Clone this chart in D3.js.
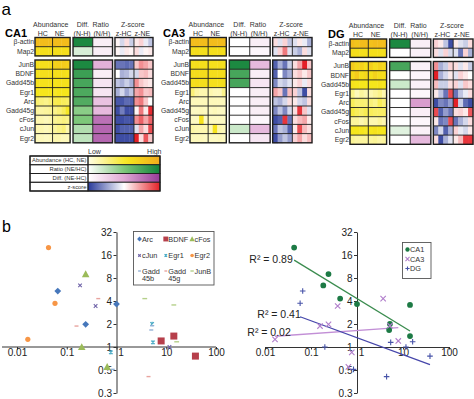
<!DOCTYPE html>
<html>
<head>
<meta charset="utf-8">
<script src="https://cdn.jsdelivr.net/npm/d3@7"></script>
<style>
  body { margin: 0; background: #fff; }
  svg { display: block; font-family: 'Liberation Sans', Arial, sans-serif; }
</style>
</head>
<body>
<div id="chart"></div>
<script>
// ---------- panel a : heatmaps ----------
const heatGenes = ['β-actin', 'Map2', 'JunB', 'BDNF', 'Gadd45b', 'Egr1', 'Arc', 'Gadd45g', 'cFos', 'cJun', 'Egr2'];
const regionNames = ['CA1', 'CA3', 'DG'];

// abundance, 4 HC replicates then 4 NE replicates (0 = low, 1 = high)
const ca1Abund = [
  [.85, .85, .85, .85, .85, .85, .85, .85],
  [.6, .6, .6, .6, .6, .6, .6, .6],
  [.6, .6, .6, .62, .7, .72, .75, .72],
  [.58, .6, .6, .6, .6, .6, .6, .58],
  [.58, .58, .58, .58, .56, .58, .58, .58],
  [.55, .55, .55, .55, .52, .55, .55, .55],
  [.32, .28, .25, .3, .4, .42, .38, .35],
  [.2, .18, .2, .22, .25, .3, .38, .52],
  [.15, .15, .12, .15, .22, .25, .28, .25],
  [.15, .15, .12, .15, .2, .25, .3, .15],
  [.12, .12, .1, .12, .15, .15, .12, .12],
];
const ca3Abund = [
  [.85, .85, .85, .85, .85, .85, .85, .85],
  [.6, .62, .6, .6, .6, .6, .62, .6],
  [.6, .62, .6, .6, .6, .6, .62, .6],
  [.62, .62, .62, .62, .62, .62, .62, .62],
  [.6, .62, .6, .6, .6, .6, .6, .62],
  [.3, .18, .15, .15, .15, .12, .12, .25],
  [.12, .12, .12, .12, .12, .12, .12, .12],
  [.1, .1, .12, .1, .1, .12, .1, .1],
  [.1, .1, .58, .1, .1, .1, .1, .1],
  [.18, .15, .15, .15, .12, .58, .15, .12],
  [.12, .12, .12, .1, .1, .1, .12, .1],
];
const dgAbund = [
  [.85, .8, .85, .85, .82, .85, .85, .85],
  [.62, .6, .6, .6, .6, .6, .6, .6],
  [.75, .65, .7, .6, .72, .62, .7, .65],
  [.65, .75, .6, .65, .6, .7, .62, .6],
  [.58, .55, .55, .55, .55, .55, .58, .55],
  [.25, .12, .2, .15, .15, .2, .25, .15],
  [.38, .3, .32, .3, .3, .25, .38, .3],
  [.45, .38, .35, .4, .38, .35, .35, .35],
  [.2, .2, .15, .2, .15, .15, .2, .15],
  [.55, .55, .55, .52, .55, .58, .55, .55],
  [.22, .18, .2, .2, .2, .22, .18, .2],
];

// green column and purple column (0 = low, 1 = high)
const ca1Green = [.95, .15, .95, .8, .75, .72, .7, .45, .5, .3, .25];
const ca1Purple = [.1, .1, .45, .1, .15, .15, .35, .4, .75, .8, .8];
const ca3Green = [0, 0, .95, .75, .75, 0, 0, 0, 0, .2, 0];
const ca3Purple = [.1, .05, .4, .1, .15, .1, .1, .1, .05, .4, .15];
const dgGreen = [.95, 0, .75, 0, .2, 0, 0, 0, 0, .12, 0];
const dgPurple = [.1, .08, .08, .05, .08, .05, .55, .1, .05, .08, .4];

// z-scores, 4 HC replicates then 4 NE replicates
const ca1Z = [
  [.1, -.4, .3, -.5, .2, .4, -.2, -.6],
  [.1, -.2, .2, .1, .3, -.2, .1, .2],
  [-1.4, -1.4, -1.5, -1.4, .5, 1, .8, .5],
  [0, -.8, -.7, -.4, -.4, .5, .6, .3],
  [-.6, -.8, -.5, -.8, 1, .5, .3, .2],
  [-.8, -.4, -.9, -.6, .8, 1, .5, .6],
  [-1.7, -1.7, -1.5, -1.6, 1, 1.2, .5, 0],
  [-1.8, -1.3, -1.8, -1.8, .1, 1.2, .2, 1.9],
  [-1.8, -1.8, -1.7, -1.8, 1, 1.4, .8, 1.4],
  [-1.8, -1.6, -1.6, -1.6, -.3, .8, .3, 1.6],
  [-1.8, -1.8, -1.8, -1.8, 2, .3, 1.5, .5],
];
const ca3Z = [
  [.3, -.3, .4, -.6, -.3, .2, -.2, -.8],
  [-.3, .4, 1.2, -.3, -.5, -.8, .3, -.3],
  [-1.6, -.8, -1.4, -.5, .3, .8, 2, .5],
  [-1.6, 0, -1.2, -.8, .3, .5, .2, .5],
  [-1.2, -.4, -.6, -.3, .2, .4, -.2, .3],
  [.8, .5, -1.4, .6, .4, -.6, -1.8, .3],
  [-.6, -.8, -.4, .3, .2, -.4, -.6, .3],
  [-1.2, -.6, -1.2, -.4, .3, 1.8, .5, -.3],
  [-1.8, -1.6, 1.8, -1.4, .3, .6, .8, .2],
  [-1.4, -.6, -.8, -1.6, .2, 1.6, .6, .3],
  [-1.8, -1, -.6, -1, .4, .8, .3, .6],
];
const dgZ = [
  [.4, .2, -.6, -1.8, .2, -.3, -.5, .3],
  [.3, -.3, .4, -.4, -.3, -1.4, .4, -.8],
  [1, -.8, -.5, .4, .3, -.3, .2, -.5],
  [2, -.8, -.4, .2, -.3, .4, .2, 0],
  [.6, -.5, -.5, .3, .4, -.3, .5, .3],
  [.2, -.6, -1.4, 1.6, -1.4, -.6, -.2, .3],
  [-1.8, -1.2, -1.4, -1, 2, -.5, -1.5, -1.8],
  [1.6, -1.6, -1, -1.4, .3, .4, .2, 1.5],
  [.2, -1.4, -1.2, 1.6, -1.4, -.8, -.4, .3],
  [-1.2, -.4, -1.6, -.8, .4, -.2, -.4, .2],
  [.3, -1.8, -.8, -.3, .2, .6, 1.8, 1.8],
];

// ---------- panel b : scatter ----------
const scatterGenes = ['Arc', 'BDNF', 'cFos', 'cJun', 'Egr1', 'Egr2', 'Gadd45b', 'Gadd45g', 'JunB'];
const ca1X = [1.0, 14.2, 0.24, 0.185, 5.2, 0.043, 5.0, 0.43, 14.2];
const ca1Y = [3.65, 1.39, 9.0, 6.4, 2.0, 20, 1.67, 4.3, 3.55];
const ca3X = [0.24, 7.9, 0.65, 0.38, 0.77, 0.0165, 5.2, 0.157, 3.7];
const ca3Y = [1.98, 1.2, 0.55, 3.44, 0.85, 1.26, 1.9, 1.88, 4.3];
const dgX = [0.066, 38.6, 0.2, 11.6, 5.4, 0.058, 0.84, 4.4, 16.2];
const dgY = [5.4, 0.76, 1.0, 1.0, 1.15, 3.73, 0.51, 0.41, 1.17];
const rSquaredLabels = ['R² = 0.89', 'R² = 0.02', 'R² = 0.41'];
const xTicks = [0.01, 0.1, 1, 10, 100];
const yTicks = [0.25, 0.5, 1, 2, 4, 8, 16, 32];

const W = 474, H = 399;
const svg = d3.select('#chart').append('svg').attr('width', W).attr('height', H);

// colour scales
const abundColor = d3.scaleLinear().domain([0, 0.55, 1]).range(['#fffde6', '#f6e61c', '#f1a91c']);
const greenColor = d3.scaleLinear().domain([0, 0.5, 1]).range(['#ffffff', '#7dc77a', '#11823b']);
const purpleColor = d3.scaleLinear().domain([0, 0.5, 1]).range(['#ffffff', '#e0a8d4', '#963a98']);
const zColor = d3.scaleLinear().domain([-2, 0, 2]).range(['#28399a', '#ffffff', '#e41f26']);

const rowH = 9.2;
function rowTop(i) {
  return i < 2 ? 37.5 + i * rowH : 60 + (i - 2) * rowH;
}

svg.append('text').attr('x', 1.5).attr('y', 15).style('font-size', '17px').text('a');

const panels = [
  { x0: 35, w: 118, dy: 0, labelX: 5 },
  { x0: 190, w: 122, dy: 0, labelX: 163 },
  { x0: 350, w: 123, dy: 1.5, labelX: 328 },
];
const abundData = [ca1Abund, ca3Abund, dgAbund];
const greenData = [ca1Green, ca3Green, dgGreen];
const purpleData = [ca1Purple, ca3Purple, dgPurple];
const zData = [ca1Z, ca3Z, dgZ];

function drawBlock(g, x0, x1, rows, colorFn) {
  const sub = d3.scaleBand().domain(d3.range(rows[0].length)).range([x0, x1]);
  const cells = rows.flatMap((vals, i) => vals.map((v, j) => ({ i, j, v })));
  g.append('g')
    .selectAll('rect')
    .data(cells)
    .join('rect')
    .attr('x', (d) => sub(d.j))
    .attr('y', (d) => rowTop(d.i))
    .attr('width', sub.bandwidth() + 0.4)
    .attr('height', rowH + 0.4)
    .attr('fill', (d) => colorFn(d.v, d.j));

  const lines = g.append('g').attr('stroke', '#1e1e1e').attr('fill', 'none');
  [[0, 2], [2, 11]].forEach(([a, b]) => {
    for (let i = a + 1; i < b; i++) {
      lines.append('line')
        .attr('x1', x0).attr('x2', x1)
        .attr('y1', rowTop(i)).attr('y2', rowTop(i))
        .attr('stroke-width', 0.9);
    }
    lines.append('line')
      .attr('x1', (x0 + x1) / 2).attr('x2', (x0 + x1) / 2)
      .attr('y1', rowTop(a)).attr('y2', rowTop(b - 1) + rowH)
      .attr('stroke-width', 0.9);
    lines.append('rect')
      .attr('x', x0).attr('y', rowTop(a))
      .attr('width', x1 - x0).attr('height', rowTop(b - 1) + rowH - rowTop(a))
      .attr('stroke-width', 1.4);
  });
}

panels.forEach((p, pi) => {
  const s = p.w / 121;
  const g = svg.append('g').attr('transform', `translate(0,${p.dy})`);
  const ab = [p.x0, p.x0 + 36 * s];
  const dr = [p.x0 + 39 * s, p.x0 + 79.5 * s];
  const zz = [p.x0 + 82 * s, p.x0 + 121 * s];

  drawBlock(g, ab[0], ab[1], abundData[pi], (v) => abundColor(v));
  const drRows = greenData[pi].map((v, i) => [v, purpleData[pi][i]]);
  drawBlock(g, dr[0], dr[1], drRows, (v, j) => (j === 0 ? greenColor(v) : purpleColor(v)));
  drawBlock(g, zz[0], zz[1], zData[pi], (v) => zColor(v));

  // titles
  g.append('text').attr('x', p.labelX).attr('y', 36.8)
    .style('font-size', '11px').style('font-weight', 'bold').text(regionNames[pi]);

  const head = g.append('g').style('font-size', '7px').attr('fill', '#333').attr('text-anchor', 'middle');
  const q = (r, f) => r[0] + (r[1] - r[0]) * f;
  head.append('text').attr('x', q(ab, 0.45)).attr('y', 26.5).text('Abundance');
  head.append('text').attr('x', q(ab, 0.22)).attr('y', 35.5).text('HC');
  head.append('text').attr('x', q(ab, 0.7)).attr('y', 35.5).text('NE');
  head.append('text').attr('x', q(dr, 0.25)).attr('y', 26.5).text('Diff.');
  head.append('text').attr('x', q(dr, 0.7)).attr('y', 26.5).text('Ratio');
  head.append('text').attr('x', q(dr, 0.23)).attr('y', 35.5).text('(N-H)');
  head.append('text').attr('x', q(dr, 0.73)).attr('y', 35.5).text('(N/H)');
  head.append('text').attr('x', q(zz, 0.47)).attr('y', 26.5).text('Z-score');
  head.append('text').attr('x', q(zz, 0.23)).attr('y', 35.5).text('z-HC');
  head.append('text').attr('x', q(zz, 0.72)).attr('y', 35.5).text('z-NE');

  g.append('g')
    .selectAll('text')
    .data(heatGenes)
    .join('text')
    .attr('x', p.x0 - 1)
    .attr('y', (d, i) => rowTop(i) + rowH / 2)
    .attr('dy', '0.35em')
    .attr('text-anchor', 'end')
    .attr('fill', '#333')
    .style('font-size', '6.8px')
    .text((d) => d);
});

// colour legend
const legendRows = [
  { label: 'Abundance (HC, NE)', scale: abundColor, domain: [0, 1] },
  { label: 'Ratio (NE/HC)', scale: greenColor, domain: [0, 1] },
  { label: 'Diff. (NE-HC)', scale: purpleColor, domain: [0, 1] },
  { label: 'z-score', scale: zColor, domain: [-2, 2] },
];
const defs = svg.append('defs');
legendRows.forEach((r, i) => {
  const grad = defs.append('linearGradient').attr('id', 'lg' + i);
  d3.range(0, 1.001, 0.1).forEach((t) => {
    grad.append('stop')
      .attr('offset', t)
      .attr('stop-color', r.scale(r.domain[0] + t * (r.domain[1] - r.domain[0])));
  });
});
const lgX = 30, lgY = 156, lgLabelW = 58, lgGradW = 72, lgRowH = 8.75;
const lg = svg.append('g');
lg.selectAll('rect.grad')
  .data(legendRows)
  .join('rect')
  .attr('class', 'grad')
  .attr('x', lgX + lgLabelW).attr('y', (d, i) => lgY + i * lgRowH)
  .attr('width', lgGradW).attr('height', lgRowH)
  .attr('fill', (d, i) => `url(#lg${i})`)
  .attr('stroke', '#1e1e1e').attr('stroke-width', 0.9);
lg.selectAll('rect.lab')
  .data(legendRows)
  .join('rect')
  .attr('class', 'lab')
  .attr('x', lgX).attr('y', (d, i) => lgY + i * lgRowH)
  .attr('width', lgLabelW).attr('height', lgRowH)
  .attr('fill', 'none').attr('stroke', '#1e1e1e').attr('stroke-width', 0.9);
lg.selectAll('text.lab')
  .data(legendRows)
  .join('text')
  .attr('class', 'lab')
  .attr('x', lgX + lgLabelW - 1.5)
  .attr('y', (d, i) => lgY + i * lgRowH + lgRowH / 2)
  .attr('dy', '0.35em')
  .attr('text-anchor', 'end')
  .attr('fill', '#333')
  .style('font-size', '5.8px')
  .text((d) => d.label);
lg.append('rect')
  .attr('x', lgX).attr('y', lgY).attr('width', lgLabelW + lgGradW).attr('height', 4 * lgRowH)
  .attr('fill', 'none').attr('stroke', '#1e1e1e').attr('stroke-width', 1.3);
lg.append('text').attr('x', lgX + lgLabelW).attr('y', 153.5)
  .attr('fill', '#333').style('font-size', '7px').text('Low');
lg.append('text').attr('x', lgX + lgLabelW + lgGradW + 1.5).attr('y', 153.5)
  .attr('text-anchor', 'end').attr('fill', '#333').style('font-size', '7px').text('High');

// ---------- panel b ----------
svg.append('text').attr('x', 2).attr('y', 231.5).style('font-size', '16px').text('b');

const regionXs = [ca1X, ca3X, dgX];
const regionYs = [ca1Y, ca3Y, dgY];
const points = regionNames.flatMap((r, ri) =>
  scatterGenes.map((g, gi) => ({ gene: g, region: r, x: regionXs[ri][gi], y: regionYs[ri][gi] })),
);

const y = d3.scaleLog().base(2).domain([0.25, 32]).range([393, 232]);
const xL = d3.scaleLog().domain([0.01, 100]).range([17, 216]);
const xR = d3.scaleLog().domain([0.01, 100]).range([265, 449]);

function markerPath(type, s) {
  const p = d3.path();
  if (type === 'diamond') {
    p.moveTo(0, -s); p.lineTo(s, 0); p.lineTo(0, s); p.lineTo(-s, 0); p.closePath();
  } else if (type === 'square') {
    p.rect(-s, -s, 2 * s, 2 * s);
  } else if (type === 'triangle') {
    p.moveTo(0, -s); p.lineTo(s, s * 0.8); p.lineTo(-s, s * 0.8); p.closePath();
  } else if (type === 'circle') {
    p.arc(0, 0, s, 0, 2 * Math.PI);
  } else if (type === 'x') {
    p.moveTo(-s, -s); p.lineTo(s, s); p.moveTo(-s, s); p.lineTo(s, -s);
  } else if (type === 'star') {
    p.moveTo(-s, -s); p.lineTo(s, s); p.moveTo(-s, s); p.lineTo(s, -s);
    p.moveTo(0, -s * 1.2); p.lineTo(0, s * 1.2);
  } else if (type === 'plus') {
    p.moveTo(-s, 0); p.lineTo(s, 0); p.moveTo(0, -s); p.lineTo(0, s);
  } else if (type === 'dash') {
    p.moveTo(-s, 0); p.lineTo(s, 0);
  }
  return p.toString();
}
const filled = { diamond: true, square: true, triangle: true, circle: true };

const geneStyle = {
  Arc: { type: 'diamond', s: 3.4, color: '#4677bb' },
  BDNF: { type: 'square', s: 3.5, color: '#b63f4b' },
  cFos: { type: 'triangle', s: 3.8, color: '#9bbb59' },
  cJun: { type: 'x', s: 1.8, color: '#6f63a8' },
  Egr1: { type: 'star', s: 1.8, color: '#4bacc6' },
  Egr2: { type: 'circle', s: 2.6, color: '#f79646' },
  Gadd45b: { type: 'dash', s: 2, color: '#93b1d6' },
  Gadd45g: { type: 'dash', s: 2, color: '#e8a49f' },
  JunB: { type: 'dash', s: 2.4, color: '#b5d08a' },
};
const regionStyle = {
  CA1: { type: 'circle', s: 2.9, color: '#1d7a45', line: '#3b8c4f' },
  CA3: { type: 'x', s: 2.7, color: '#b07dcb', line: '#c28fd6' },
  DG: { type: 'plus', s: 2.8, color: '#4753a8', line: '#4646aa' },
};

function styleMarker(sel, st) {
  sel.attr('d', (d) => markerPath(st(d).type, st(d).s))
    .attr('fill', (d) => (filled[st(d).type] ? st(d).color : 'none'))
    .attr('stroke', (d) => (filled[st(d).type] ? 'none' : st(d).color))
    .attr('stroke-width', (d) => (st(d).type === 'dash' ? 1.4 : 1.1));
}

const fmtY = (d) => (d < 1 ? d.toFixed(1) : String(d));

function drawAxes(x) {
  const g = svg.append('g').style('font-size', '8px');
  const ya = g.append('g')
    .attr('transform', `translate(${x(1)},0)`)
    .call(d3.axisLeft(y).tickValues(yTicks).tickFormat(fmtY).tickSize(3).tickSizeOuter(0).tickPadding(1.5));
  const xa = g.append('g')
    .attr('transform', `translate(0,${y(1)})`)
    .call(d3.axisBottom(x).tickValues(xTicks).tickFormat((d) => String(d)).tickSize(2.5).tickSizeOuter(0));
  xa.selectAll('.tick text').attr('y', 2).attr('dx', (d) => (d === 1 ? 4 : 0));
  g.selectAll('.domain').attr('stroke', '#333');
  g.selectAll('.tick line').attr('stroke', '#333');
  g.selectAll('.tick text').attr('fill', '#222').style('font-family', "'Liberation Sans', Arial, sans-serif");
  return xa;
}

// left chart: coloured by gene
const xaL = drawAxes(xL);
xaL.select('.domain').attr('d', `M${xL(0.005)},0H${xL(100)}`);
svg.append('g')
  .selectAll('path')
  .data(points)
  .join('path')
  .attr('transform', (d) => `translate(${xL(d.x)},${y(d.y)})`)
  .call(styleMarker, (d) => geneStyle[d.gene]);

// left legend
const legL = svg.append('g').style('font-size', '7.3px');
legL.append('rect').attr('x', 133.5).attr('y', 231.5).attr('width', 80.5).attr('height', 53.5)
  .attr('fill', '#fff').attr('stroke', '#555').attr('stroke-width', 0.9);
const legItems = legL.selectAll('g')
  .data(scatterGenes)
  .join('g')
  .attr('transform', (d, i) => `translate(${139.5 + (i % 3) * 26.3},${[239, 255.5, 271][Math.floor(i / 3)]})`);
legItems.append('path')
  .datum((d) => d)
  .call(styleMarker, (d) => {
    const st = geneStyle[d];
    return { type: st.type, s: st.s * 0.7, color: st.color };
  });
legItems.each(function (d) {
  const gsel = d3.select(this);
  if (d.startsWith('Gadd')) {
    gsel.append('text').attr('x', 2.5).attr('y', 2.5).text('Gadd');
    gsel.append('text').attr('x', 8.5).attr('y', 10).attr('text-anchor', 'middle').text(d.slice(4));
  } else {
    gsel.append('text').attr('x', 2.5).attr('y', 2.5).text(d);
  }
});
legItems.selectAll('text').attr('fill', '#333');

// right chart: coloured by region, with power-law fits
drawAxes(xR);
const fitG = svg.append('g');
const fits = regionNames.map((r) => {
  const pts = points.filter((d) => d.region === r);
  const lx = pts.map((d) => Math.log10(d.x));
  const ly = pts.map((d) => Math.log10(d.y));
  const mx = d3.mean(lx), my = d3.mean(ly);
  const b = d3.sum(lx, (v, i) => (v - mx) * (ly[i] - my)) / d3.sum(lx, (v) => (v - mx) ** 2);
  const a = my - b * mx;
  const [x0, x1] = d3.extent(pts, (d) => d.x);
  return { region: r, x0, x1, y0: 10 ** (a + b * Math.log10(x0)), y1: 10 ** (a + b * Math.log10(x1)) };
});
fitG.selectAll('line')
  .data(fits)
  .join('line')
  .attr('x1', (d) => xR(d.x0)).attr('y1', (d) => y(d.y0))
  .attr('x2', (d) => xR(d.x1)).attr('y2', (d) => y(d.y1))
  .attr('stroke', (d) => regionStyle[d.region].line)
  .attr('stroke-width', 1.3);

svg.append('g')
  .selectAll('path')
  .data(points)
  .join('path')
  .attr('transform', (d) => `translate(${xR(d.x)},${y(d.y)})`)
  .call(styleMarker, (d) => regionStyle[d.region]);

const r2Pos = [[249.3, 263], [247.3, 335.5], [257.3, 318]];
svg.append('g')
  .selectAll('text')
  .data(rSquaredLabels)
  .join('text')
  .attr('x', (d, i) => r2Pos[i][0])
  .attr('y', (d, i) => r2Pos[i][1])
  .attr('fill', '#222')
  .style('font-size', '10.5px')
  .text((d) => d);

// right legend
const legR = svg.append('g').style('font-size', '7.3px');
legR.append('rect').attr('x', 402.5).attr('y', 242.5).attr('width', 28.5).attr('height', 36)
  .attr('fill', '#fff').attr('stroke', '#555').attr('stroke-width', 0.9);
const legRItems = legR.selectAll('g')
  .data(regionNames)
  .join('g')
  .attr('transform', (d, i) => `translate(407.5,${249.5 + i * 9.5})`);
legRItems.append('path')
  .call(styleMarker, (d) => {
    const st = regionStyle[d];
    return { type: st.type, s: st.s * 0.75, color: st.color };
  });
legRItems.append('text').attr('x', 2.5).attr('y', 2.6).attr('fill', '#333').text((d) => d);
</script>
</body>
</html>
